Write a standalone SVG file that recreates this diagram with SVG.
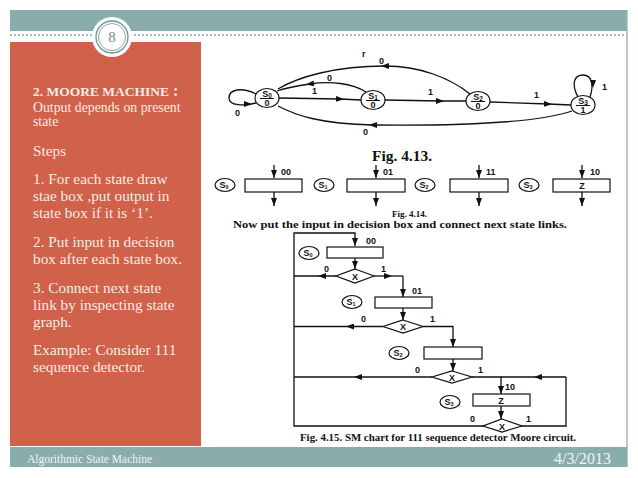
<svg xmlns="http://www.w3.org/2000/svg" width="638" height="478" viewBox="0 0 638 478">
<style>
.ln{fill:none;stroke:#111;stroke-width:1.3}
.bx{fill:#fff;stroke:#111;stroke-width:1.2}
.lb{font-family:"Liberation Sans",Arial,sans-serif;font-weight:bold;font-size:9px;fill:#111}
.st{font-family:"Liberation Sans",Arial,sans-serif;font-weight:bold;font-size:9px;fill:#111;text-anchor:middle}
.cap{font-family:"Liberation Serif","Times New Roman",serif;font-weight:bold;fill:#111}
.pn{font-family:"Liberation Serif",Georgia,serif;fill:#f8ebe5;font-size:15.3px}
.ah{fill:#111}
</style>
<defs>
<marker id="a" markerUnits="userSpaceOnUse" markerWidth="8" markerHeight="6" refX="4" refY="3" orient="auto"><path d="M0,0 L8,3 L0,6 z" fill="#111"/></marker>
<marker id="e" markerUnits="userSpaceOnUse" markerWidth="8" markerHeight="6" refX="8" refY="3" orient="auto"><path d="M0,0 L8,3 L0,6 z" fill="#111"/></marker>
</defs>
<rect width="638" height="478" fill="#fff"/>
<!-- slide frame -->
<rect x="10" y="10" width="617" height="21" fill="#89adab"/>
<line x1="10" y1="35" x2="627" y2="35" stroke="#a9bcbb" stroke-width="2" stroke-dasharray="2,2"/>
<rect x="10" y="42" width="191" height="404" fill="#d0614a"/>
<line x1="627" y1="10" x2="627" y2="467" stroke="#9fb8b6" stroke-width="1.5"/>
<rect x="10" y="447" width="617" height="20" fill="#89adab"/>
<text x="27" y="463" font-family="Liberation Serif,Georgia,serif" font-size="13" fill="#f2f4f4" textLength="125" lengthAdjust="spacingAndGlyphs">Algorithmic State Machine</text>
<text x="611" y="464" font-family="Liberation Serif,Georgia,serif" font-size="16" fill="#f2f4f4" text-anchor="end">4/3/2013</text>
<g id="slide-number">
<circle cx="112" cy="37" r="20" fill="#fff"/>
<circle cx="112" cy="37" r="16" fill="none" stroke="#6f9391" stroke-width="1.3"/>
<circle cx="112" cy="37" r="13.5" fill="none" stroke="#6f9391" stroke-width="0.8"/>
<text x="112" y="42" font-family="Liberation Serif,Georgia,serif" font-size="15" fill="#6f8c8a" text-anchor="middle">8</text>
</g>
<!-- left panel text -->
<g id="panel-text">
<text x="33" y="96" font-family="Liberation Serif,Georgia,serif" font-weight="bold" font-size="13.5" fill="#f8ebe5">2. MOORE MACHINE</text>
<text x="173" y="96" font-family="Liberation Serif,Georgia,serif" font-weight="bold" font-size="16" fill="#f8ebe5">:</text>
<text x="33" y="112" font-family="Liberation Serif,Georgia,serif" font-size="13.8" fill="#f8ebe5">Output depends on present</text>
<text x="33" y="126" font-family="Liberation Serif,Georgia,serif" font-size="13.8" fill="#f8ebe5">state</text>
<text x="33" y="156" class="pn" font-size="16">Steps</text>
<text x="33" y="184" class="pn">1. For each state draw</text>
<text x="33" y="201" class="pn">stae box ,put output in</text>
<text x="33" y="218" class="pn">state box if it is ‘1’.</text>
<text x="33" y="247" class="pn">2. Put input in decision</text>
<text x="33" y="264" class="pn">box after each state box.</text>
<text x="33" y="293" class="pn">3. Connect next state</text>
<text x="33" y="310" class="pn">link by inspecting state</text>
<text x="33" y="327" class="pn">graph.</text>
<text x="33" y="355" class="pn">Example: Consider 111</text>
<text x="33" y="372" class="pn">sequence detector.</text>
</g>
<!-- Fig 4.13 state graph -->
<g id="graph-connectors">
<path class="ln" d="M279,98 L340,99 L361,100" marker-mid="url(#a)"/>
<path class="ln" d="M385,100 L440,101 L466,101" marker-mid="url(#a)"/>
<path class="ln" d="M490,102 L548,104 L571,105" marker-mid="url(#a)"/>
<path class="ln" d="M366,92 C352,83 330,81 310,84 C296,86 286,88 277,91" marker-mid="url(#a)"/>
<path class="ln" d="M470,94 C450,78 420,66 385,66 C335,66 298,77 278,89" marker-mid="url(#a)"/>
<path class="ln" d="M572,111 C540,122 470,126 373,125 C320,124 295,115 278,106" marker-mid="url(#a)"/>
<path class="ln" d="M256,94 C242,87 229,89 229,98 C229,106 244,106 256,103"/>
<polygon class="ah" points="244,101 252,104 244,107"/>
<path class="ln" d="M578,97 C571,84 574,75 583,75 C592,75 594,85 590,97"/>
<polygon class="ah" points="590,80 593,88 596,80"/>
<text class="lb" x="312" y="94">1</text>
<text class="lb" x="428" y="95">1</text>
<text class="lb" x="534" y="98">1</text>
<text class="lb" x="602" y="90">1</text>
<text class="lb" x="327" y="81">0</text>
<text class="lb" x="379" y="64">0</text>
<text class="lb" x="362" y="57" font-size="6">r</text>
<text class="lb" x="235" y="116">0</text>
<text class="lb" x="363" y="135">0</text>
</g>
<g id="S0"><ellipse class="bx" cx="267" cy="98" rx="12" ry="9.5"/><text class="st" x="267" y="97">S<tspan font-size="6.5" dy="1">0</tspan></text><line x1="260" y1="98.5" x2="274" y2="98.5" stroke="#111"/><text class="st" x="267" y="106">0</text></g>
<g id="S1"><ellipse class="bx" cx="373" cy="100" rx="12" ry="9.5"/><text class="st" x="373" y="99">S<tspan font-size="6.5" dy="1">1</tspan></text><line x1="366" y1="100.5" x2="380" y2="100.5" stroke="#111"/><text class="st" x="373" y="108">0</text></g>
<g id="S2"><ellipse class="bx" cx="478" cy="101" rx="12" ry="9.5"/><text class="st" x="478" y="100">S<tspan font-size="6.5" dy="1">2</tspan></text><line x1="471" y1="101.5" x2="485" y2="101.5" stroke="#111"/><text class="st" x="478" y="109">0</text></g>
<g id="S3"><ellipse class="bx" cx="583" cy="105" rx="12" ry="9.5"/><text class="st" x="583" y="104">S<tspan font-size="6.5" dy="1">3</tspan></text><line x1="576" y1="105.5" x2="590" y2="105.5" stroke="#111"/><text class="st" x="583" y="113">1</text></g>
<text class="cap" x="372" y="161" font-size="14" textLength="60" lengthAdjust="spacingAndGlyphs">Fig. 4.13.</text>
<!-- Fig 4.14 -->
<g id="fig414-connectors">
<path class="ln" d="M274,165 L274,178" marker-end="url(#e)"/><path class="ln" d="M274,192 L274,206" marker-end="url(#e)"/>
<path class="ln" d="M376,165 L376,178" marker-end="url(#e)"/><path class="ln" d="M376,192 L376,206" marker-end="url(#e)"/>
<path class="ln" d="M479,165 L479,178" marker-end="url(#e)"/><path class="ln" d="M479,192 L479,206" marker-end="url(#e)"/>
<path class="ln" d="M582,165 L582,178" marker-end="url(#e)"/><path class="ln" d="M582,192 L582,206" marker-end="url(#e)"/>
</g>
<g id="b414-S0"><ellipse class="bx" cx="225" cy="185" rx="10" ry="6.5"/><text class="st" x="224" y="188" font-size="7.5">S<tspan font-size="5.5" dy="1">0</tspan></text><rect class="bx" x="245" y="179" width="57" height="13"/><text class="lb" x="281" y="175" font-size="8">00</text></g>
<g id="b414-S1"><ellipse class="bx" cx="324" cy="185" rx="10" ry="6.5"/><text class="st" x="323" y="188" font-size="7.5">S<tspan font-size="5.5" dy="1">1</tspan></text><rect class="bx" x="347" y="179" width="58" height="13"/><text class="lb" x="383" y="175" font-size="8">01</text></g>
<g id="b414-S2"><ellipse class="bx" cx="425" cy="185" rx="10" ry="6.5"/><text class="st" x="424" y="188" font-size="7.5">S<tspan font-size="5.5" dy="1">2</tspan></text><rect class="bx" x="450" y="179" width="58" height="13"/><text class="lb" x="486" y="175" font-size="8">11</text></g>
<g id="b414-S3"><ellipse class="bx" cx="529" cy="185" rx="10" ry="6.5"/><text class="st" x="528" y="188" font-size="7.5">S<tspan font-size="5.5" dy="1">3</tspan></text><rect class="bx" x="553" y="179" width="57" height="13"/><text class="lb" x="590" y="175" font-size="8">10</text><text class="st" x="582" y="189" font-size="8">Z</text></g>
<text class="cap" x="392" y="217" font-size="9">Fig. 4.14.</text>
<text class="cap" x="233" y="228" font-size="10.5" textLength="334" lengthAdjust="spacingAndGlyphs">Now put the input in decision box and connect next state links.</text>
<!-- Fig 4.15 SM chart -->
<g id="sm-connectors">
<path class="ln" d="M502,426 L294,426 L294,233 L355,233 L355,246" marker-end="url(#e)"/>
<path class="ln" d="M355,258 L355,269" marker-end="url(#e)"/>
<path class="ln" d="M336,276 L322,276 L294,276" marker-mid="url(#a)"/>
<path class="ln" d="M374,276 L388,276 L403,276" marker-mid="url(#a)"/>
<path class="ln" d="M403,276 L403,297" marker-end="url(#e)"/>
<path class="ln" d="M403,308 L403,320" marker-end="url(#e)"/>
<path class="ln" d="M383,326.5 L350,326.5 L294,326.5" marker-mid="url(#a)"/>
<path class="ln" d="M423,326.5 L453,326.5 L453,347" marker-end="url(#e)"/>
<path class="ln" d="M453,359 L453,371" marker-end="url(#e)"/>
<path class="ln" d="M432,377 L358,377 L294,377" marker-mid="url(#a)"/>
<path class="ln" d="M472,377 L501,377 L501,394" marker-end="url(#e)"/>
<path class="ln" d="M566,377 L538,377 L501,377" marker-mid="url(#a)"/>
<path class="ln" d="M522,426 L566,426 L566,377"/>
<path class="ln" d="M501,406 L501,419" marker-end="url(#e)"/>
<text class="lb" x="324" y="272" font-size="8">0</text>
<text class="lb" x="381" y="272" font-size="8">1</text>
<text class="lb" x="361" y="322" font-size="8">0</text>
<text class="lb" x="430" y="322" font-size="8">1</text>
<text class="lb" x="415" y="373" font-size="8">0</text>
<text class="lb" x="478" y="373" font-size="8">1</text>
<text class="lb" x="470" y="422" font-size="8">0</text>
<text class="lb" x="526" y="422" font-size="8">1</text>
</g>
<g id="sm-S0"><ellipse class="bx" cx="309" cy="253" rx="10" ry="6.5"/><text class="st" x="308" y="256" font-size="7.5">S<tspan font-size="5.5" dy="1">0</tspan></text><rect class="bx" x="327" y="247" width="56" height="11"/><text class="lb" x="366" y="244" font-size="8">00</text></g>
<g id="sm-X0"><polygon class="bx" points="355,269 374,276 355,283 336,276"/><text class="st" x="355" y="279.5" font-size="8">X</text></g>
<g id="sm-S1"><ellipse class="bx" cx="352" cy="302" rx="10" ry="6.5"/><text class="st" x="351" y="305" font-size="7.5">S<tspan font-size="5.5" dy="1">1</tspan></text><rect class="bx" x="375" y="297" width="57" height="11"/><text class="lb" x="412" y="294" font-size="8">01</text></g>
<g id="sm-X1"><polygon class="bx" points="403,320 423,326.5 403,333 383,326.5"/><text class="st" x="403" y="330" font-size="8">X</text></g>
<g id="sm-S2"><ellipse class="bx" cx="399" cy="353" rx="10" ry="6.5"/><text class="st" x="398" y="356" font-size="7.5">S<tspan font-size="5.5" dy="1">2</tspan></text><rect class="bx" x="424" y="347" width="58" height="12"/></g>
<g id="sm-X2"><polygon class="bx" points="452,371 472,377 452,383 432,377"/><text class="st" x="452" y="380.5" font-size="8">X</text></g>
<g id="sm-S3"><ellipse class="bx" cx="450" cy="402" rx="10" ry="6.5"/><text class="st" x="449" y="405" font-size="7.5">S<tspan font-size="5.5" dy="1">3</tspan></text><rect class="bx" x="473" y="394" width="57" height="12"/><text class="st" x="501" y="403.5" font-size="8">Z</text><text class="lb" x="505" y="390" font-size="8">10</text></g>
<g id="sm-X3"><polygon class="bx" points="502,419 522,426 502,432 483,426"/><text class="st" x="502" y="429.5" font-size="8">X</text></g>
<text class="cap" x="300" y="441" font-size="10" textLength="276" lengthAdjust="spacingAndGlyphs">Fig. 4.15. SM chart for 111 sequence detector Moore circuit.</text>
</svg>
